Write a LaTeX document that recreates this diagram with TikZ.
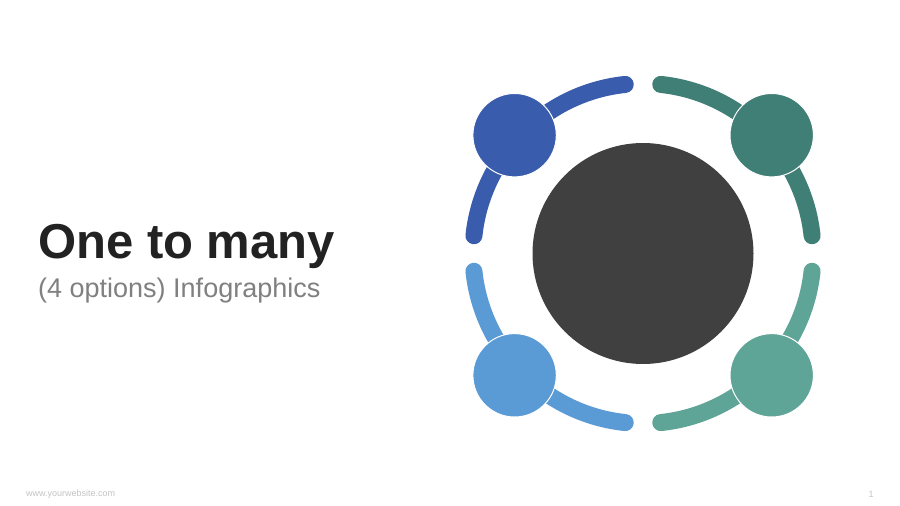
\documentclass[tikz,border=0pt]{standalone}
\usepackage{fontspec}
\setmainfont{Liberation Sans}
\definecolor{cdarkblue}{HTML}{3A5CAC}
\definecolor{cdarkteal}{HTML}{407F75}
\definecolor{clightblue}{HTML}{5B9BD5}
\definecolor{clightteal}{HTML}{5EA597}
\definecolor{chub}{HTML}{404040}
\definecolor{ctitle}{HTML}{222222}
\definecolor{csub}{HTML}{808080}
\definecolor{cfoot}{HTML}{C4C4C4}
\tikzset{
  ringarc/.style={line width=17pt, line cap=round},
  satellite/.style={circle, draw=white, line width=1pt, minimum size=83.4pt, inner sep=0pt},
  hubcircle/.style={circle, fill=chub, minimum size=221pt, inner sep=0pt},
  titletext/.style={anchor=base west, inner sep=0pt, font=\fontsize{49}{52}\selectfont\bfseries, text=ctitle},
  subtext/.style={anchor=base west, inner sep=0pt, font=\fontsize{27}{30}\selectfont, text=csub},
  foottext/.style={inner sep=0pt, font=\fontsize{9}{10}\selectfont, text=cfoot}
}
\begin{document}
\begin{tikzpicture}[x=1pt,y=-1pt]
\useasboundingbox[fill=white] (0,0) rectangle (900,506);
\coordinate (ring) at (643,253.5);
% arcs
\draw[ringarc, cdarkblue]  ([shift={(ring)}]186:170) arc[start angle=186, end angle=264, radius=170];
\draw[ringarc, cdarkteal]  ([shift={(ring)}]276:170) arc[start angle=276, end angle=354, radius=170];
\draw[ringarc, clightteal] ([shift={(ring)}]6:170) arc[start angle=6, end angle=84, radius=170];
\draw[ringarc, clightblue] ([shift={(ring)}]96:170) arc[start angle=96, end angle=174, radius=170];
% hub
\node[hubcircle] (hub) at (643,253.5) {};
% satellites
\node[satellite, fill=cdarkblue]  (tl) at (514.6,135.2) {};
\node[satellite, fill=cdarkteal]  (tr) at (771.7,135.2) {};
\node[satellite, fill=clightblue] (bl) at (514.6,375.3) {};
\node[satellite, fill=clightteal] (br) at (771.7,375.3) {};
% texts
\node[titletext] (title) at (38,258.5) {One to many};
\node[subtext] (sub) at (38,297.5) {(4 options) Infographics};
\node[foottext, anchor=west] (web) at (26,494.5) {www.yourwebsite.com};
\node[foottext] (page) at (871,494.5) {1};
\end{tikzpicture}
\end{document}
